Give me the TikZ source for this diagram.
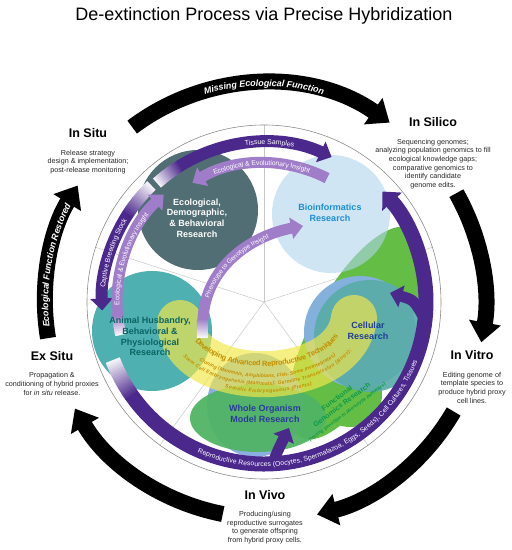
\documentclass[tikz,border=0pt]{standalone}
\usepackage{fontspec}
\setmainfont{Liberation Sans}
\usetikzlibrary{arrows.meta,decorations.text}
\definecolor{purp}{HTML}{4B288C}
\definecolor{lav}{HTML}{A07DC8}
\definecolor{ecoc}{HTML}{506E73}
\definecolor{bioc}{HTML}{AFD4ED}
\definecolor{biotext}{HTML}{1E8CD2}
\definecolor{anic}{HTML}{4EB0B0}
\definecolor{anitext}{HTML}{0A6464}
\definecolor{cellc}{HTML}{5AACA8}
\definecolor{cellblue}{HTML}{84B1DC}
\definecolor{celltext}{HTML}{1F3E94}
\definecolor{fgreen}{HTML}{64BE46}
\definecolor{fgtext}{HTML}{0E9A48}
\definecolor{wblue}{HTML}{8CAFE1}
\definecolor{wgreen}{HTML}{50B464}
\definecolor{wtext}{HTML}{2A3C9A}
\definecolor{yel}{HTML}{F2E84A}
\definecolor{yeltext}{HTML}{C48F00}
\newcommand{\fadeband}[6]{%
  \foreach \k in {1,...,#6}{%
    \pgfmathsetmacro{\fdA}{#4+(#5-#4)*(\k-1)/#6}%
    \pgfmathsetmacro{\fdB}{#4+(#5-#4)*(\k+0.4)/#6}%
    \pgfmathsetmacro{\fdP}{100*\k/(#6+1)}%
    \draw[#1!\fdP!white, line width=#2] (C) ++(\fdA:#3) arc[start angle=\fdA, end angle=\fdB, radius=#3];
  }%
}
\begin{document}
\begin{tikzpicture}[x=1pt,y=1pt,
  spoke/.style={draw=black!22, line width=0.5pt},
  ring/.style={draw=black!45, line width=0.6pt},
  blackarrow/.style={draw=black, line width=16pt, -{Triangle[length=20pt,width=31pt]}},
  purpband/.style={draw=purp, line width=12pt, -{Triangle[length=12pt,width=22pt]}},
  lavband/.style={draw=lav, line width=11pt, -{Triangle[length=12pt,width=21pt]}},
  stage/.style={font=\fontsize{12.5}{14}\selectfont\bfseries, inner sep=0pt},
  desc/.style={font=\fontsize{7.2}{8.7}\selectfont, align=center, inner sep=0pt, text=black!85},
  circtext/.style={font=\fontsize{9}{10.8}\selectfont\bfseries, align=center, inner sep=0pt},
]
\useasboundingbox (0,0) rectangle (512,550);
\coordinate (C) at (264,248);

% spokes and thin circle
\foreach \a in {18,90,162,234,306} \draw[spoke] (C) -- ++(\a:177);
\draw[ring] (C) circle[radius=177];

% circles
\fill[fgreen, rotate around={62:(356,217)}] (356,217) ellipse[x radius=118, y radius=45];
\fill[fgreen] (350,155) circle[radius=32];
\fill[bioc, opacity=0.6] (331,336) circle[radius=59];
\fill[ecoc] (198,340) circle[radius=60];
\fill[anic] (152,219) circle[radius=60];
\fill[cellblue] (360,218) circle[radius=56];
\fill[cellc, opacity=0.92] (370,214) circle[radius=56];
\fill[wblue] (255,145) ellipse[x radius=48, y radius=52];
\fill[wgreen, opacity=0.95] (258,132) ellipse[x radius=68, y radius=34];

% yellow band
\draw[yel, opacity=0.68, line width=46pt, line cap=round] (180,227) .. controls (185,158) and (345,158) .. (354,232);

% dark purple bands
\fadeband{purp}{12pt}{160}{132}{122}{14}
\draw[purpband] (C) ++(122:160) arc[start angle=122, end angle=65, radius=160];
\fadeband{purp}{12pt}{162}{134}{147}{16}
\draw[purpband] (C) ++(147:162) arc[start angle=147, end angle=183, radius=162];
\fadeband{purp}{15pt}{162}{201}{215}{16}
\draw[draw=purp, line width=15pt, -{Triangle[length=14pt,width=26pt]}] (C) ++(215:162) arc[start angle=215, end angle=403, radius=162];
\coordinate (br0) at (424,232);
\coordinate (br1) at (390,257);
\draw[draw=purp, line width=11pt, -{Triangle[length=12pt,width=22pt]}] (br0) .. controls (414,250) .. (br1);
\coordinate (wo0) at (272,85);
\coordinate (wo1) at (289,122);
\draw[draw=purp, line width=11pt, -{Triangle[length=12pt,width=22pt]}] (wo0) .. controls (278,100) .. (wo1);

% lavender bands
\draw[lavband] (C) ++(63:139) arc[start angle=63, end angle=121, radius=139];
\fadeband{lav}{11pt}{147}{193}{186}{8}
\draw[lavband] (C) ++(186:147) arc[start angle=186, end angle=133, radius=147];
\foreach \k in {1,...,10}{\pgfmathsetmacro{\fdP}{100*\k/11}\pgfmathsetmacro{\fdY}{212+1.8*(\k-1)}\pgfmathsetmacro{\fdZ}{212+1.8*\k+0.6}\draw[lav!\fdP!white, line width=11pt] (202.4,\fdY) -- (202.5,\fdZ);}
\coordinate (ph0) at (203,230);
\coordinate (ph1) at (303,324);
\draw[lavband] (ph0) .. controls (205,282) and (250,314) .. (ph1);

% band texts
\path[decorate, decoration={text along path, text align=center, text color=white, raise=-2.5pt, text={|\fontsize{7}{8}\selectfont|Tissue Samples}}] (C) ++(115:160) arc[start angle=115, end angle=61, radius=160];
\path[decorate, decoration={text along path, text align=center, text color=white, raise=-2.5pt, text={|\fontsize{7}{8}\selectfont|Captive Breeding Stock}}] (C) ++(178:162) arc[start angle=178, end angle=146, radius=162];
\path[decorate, decoration={text along path, text align=center, text color=white, raise=-2.4pt, text={|\fontsize{6.8}{8}\selectfont|Ecological {\&} Evolutionary Insight}}] (C) ++(114:139) arc[start angle=114, end angle=68, radius=139];
\path[decorate, decoration={text along path, text align=center, text color=white, raise=-2.4pt, text={|\fontsize{6.8}{8}\selectfont|Ecological {\&} Evolutionary Insight}}] (C) ++(184:147) arc[start angle=184, end angle=140, radius=147];
\path[decorate, decoration={text along path, text align=center, text color=white, raise=-2.3pt, text={|\fontsize{6.5}{8}\selectfont|Phenotype to Genotype Insight}}] (203,230) .. controls (205,278) and (245,310) .. (290,321);
\path[decorate, decoration={text along path, text align=center, text color=white, raise=-2.4pt, text={|\fontsize{6.8}{8}\selectfont|Reproductive Resources (Oocytes, Spermatazoa, Eggs, Seeds), Cell Cultures, Tissues}}] (C) ++(232:162) arc[start angle=232, end angle=353, radius=162];

% yellow band texts
\path[decorate, decoration={text along path, text align=center, text color=yeltext, raise=8pt, text={|\fontsize{7.5}{8}\selectfont\bfseries|Developing Advanced Reproductive Techniques}}] (180,227) .. controls (185,158) and (345,158) .. (354,232);
\path[decorate, decoration={text along path, text align=center, text color=yeltext, raise=-3.5pt, text={|\fontsize{5}{6}\selectfont\bfseries\itshape|Cloning (Mammals, Amphibians, Fish, Some Invertebrates)}}] (180,227) .. controls (185,158) and (345,158) .. (354,232);
\path[decorate, decoration={text along path, text align=center, text color=yeltext, raise=-11pt, text={|\fontsize{5}{6}\selectfont\bfseries\itshape|Stem Cell Embryogenesis (Mammals); Germline Transmission (Birds);}}] (180,227) .. controls (185,158) and (345,158) .. (354,232);
\path[decorate, decoration={text along path, text align=center, text color=yeltext, raise=-18.5pt, text={|\fontsize{5}{6}\selectfont\bfseries\itshape|Somatic Embryogenesis (Plants)}}] (180,227) .. controls (185,158) and (345,158) .. (354,232);

% circle texts
\node[circtext, text=white] (eco) at (197,332) {Ecological,\\Demographic,\\\& Behavioral\\Research};
\node[circtext, text=biotext] (bio) at (330,337) {Bioinformatics\\Research};
\node[circtext, text=anitext] (ani) at (150,213.5) {Animal Husbandry,\\Behavioral \&\\Physiological\\Research};
\node[circtext, text=celltext] (cell) at (368,219) {Cellular\\Research};
\node[circtext, text=wtext] (wo) at (265,136) {Whole Organism\\Model Research};
\node[rotate=36.8, align=center, inner sep=0pt, text=fgtext, font=\fontsize{7.2}{8.2}\selectfont\bfseries] (fg) at (342,145) {Functional\\Genomics Research\\{\fontsize{4.7}{5.5}\selectfont\itshape(testing genotype to phenotype pathways)}};

% outer black arrows
\draw[blackarrow] (C) ++(127:219) arc[start angle=127, end angle=55, radius=219];
\draw[blackarrow] (C) ++(29.5:221) arc[start angle=29.5, end angle=-10.5, radius=221];
\draw[blackarrow] (C) ++(-30:219) arc[start angle=-30, end angle=-76, radius=219];
\draw[blackarrow] (C) ++(259:216) arc[start angle=259, end angle=210, radius=219];
\draw[blackarrow] (C) ++(189.5:219) arc[start angle=189.5, end angle=148.5, radius=222];
\path[decorate, decoration={text along path, text align=center, text color=white, raise=-3.2pt, text={|\fontsize{9}{10}\selectfont\bfseries\itshape|Missing Ecological Function}}] (C) ++(125:219) arc[start angle=125, end angle=55, radius=219];
\path[decorate, decoration={text along path, text align=center, text color=white, raise=-3.2pt, text={|\fontsize{9}{10}\selectfont\bfseries\itshape|Ecological Function Restored}}] (C) ++(189:219) arc[start angle=189, end angle=151, radius=219];

% stage labels
\node[font=\fontsize{18}{20}\selectfont, inner sep=0pt] (title) at (264,534.5) {De-extinction Process via Precise Hybridization};
\node[stage] (insitu) at (88,417) {In Situ};
\node[desc] (insitud) at (88,388) {Release strategy\\design \& implementation;\\post-release monitoring};
\node[stage] (insilico) at (433,428) {In Silico};
\node[desc] (insilicod) at (433,386) {Sequencing genomes;\\analyzing population genomics to fill\\ecological knowledge gaps;\\comparative genomics to\\identify candidate\\genome edits.};
\node[stage] (invitro) at (472,195) {In Vitro};
\node[desc] (invitrod) at (472,162.5) {Editing genome of\\template species to\\produce hybrid proxy\\cell lines.};
\node[stage] (invivo) at (265,55) {In Vivo};
\node[desc] (invivod) at (265,22.5) {Producing/using\\reproductive surrogates\\to generate offspring\\from hybrid proxy cells.};
\node[stage] (exsitu) at (52,194) {Ex Situ};
\node[desc] (exsitud) at (52,166) {Propagation \&\\conditioning of hybrid proxies\\for \textit{in situ} release.};
\end{tikzpicture}
\end{document}
